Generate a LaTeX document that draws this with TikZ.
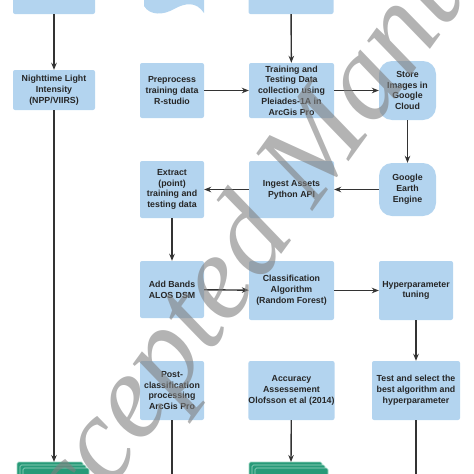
\documentclass[tikz,border=0pt]{standalone}
\usepackage{fontspec}
\setsansfont{Liberation Sans}
\newfontfamily\markfont{Liberation Serif}
\usetikzlibrary{arrows.meta}
\definecolor{boxblue}{HTML}{B3D4EF}
\definecolor{stackgreen}{HTML}{279A78}
\definecolor{stackedge}{HTML}{9ED8C4}
\definecolor{linegray}{HTML}{333333}
\begin{document}
\begin{tikzpicture}
  [x=1pt,y=-1pt,
   every node/.style={inner sep=0pt,align=center,text=black!85,
     font=\sffamily\bfseries\fontsize{8.8}{10.8}\selectfont},
   blk/.style={fill=boxblue,rounded corners=2pt},
   cloud/.style={fill=boxblue,rounded corners=13pt},
   link/.style={draw=linegray,line width=1.4pt,-{Stealth[length=7pt,width=5.5pt]}},
   plain/.style={draw=linegray,line width=1.4pt}]
  \useasboundingbox (0,0) rectangle (474,474);

  % top row, cut off by the page
  \node[blk,minimum width=82pt,minimum height=30pt] (top1) at (54,-1) {};
  \node[blk,minimum width=85pt,minimum height=30pt] (top3) at (291,-1) {};
  \fill[boxblue] (144,-10) -- (144,6) .. controls (150,16) and (164,15) .. (174,9)
    .. controls (185,3) and (196,1) .. (204,13) -- (204,-10) -- cycle;

  % first row
  \node[blk,minimum width=82pt,minimum height=40pt] (ntl) at (54,90) {Nighttime Light\\Intensity\\(NPP/VIIRS)};
  \node[blk,minimum width=64pt,minimum height=55pt] (prep) at (172,90.5) {Preprocess\\training data\\R-studio};
  \node[blk,minimum width=85pt,minimum height=55pt] (train) at (291.5,90.5) {Training and\\Testing Data\\collection using\\Pleiades-1A in\\ArcGis Pro};
  \node[cloud,minimum width=57pt,minimum height=59pt] (store) at (407.5,90.5) {Store\\Images in\\Google\\Cloud};

  % second row
  \node[cloud,minimum width=57pt,minimum height=53pt] (gee) at (407.5,189.5) {Google\\Earth\\Engine};
  \node[blk,minimum width=85pt,minimum height=57pt] (ingest) at (291.5,189.5) {Ingest Assets\\Python API};
  \node[blk,minimum width=64pt,minimum height=57pt] (extract) at (172,189.5) {Extract\\(point)\\training and\\testing data};

  % third row
  \node[blk,minimum width=64pt,minimum height=57pt] (bands) at (172,289.5) {Add Bands\\ALOS DSM};
  \node[blk,minimum width=85pt,minimum height=59pt] (rf) at (291.5,290.5) {Classification\\Algorithm\\(Random Forest)};
  \node[blk,minimum width=74pt,minimum height=59pt] (hyper) at (416,290.5) {Hyperparameter\\tuning};

  % fourth row
  \node[blk,minimum width=64pt,minimum height=59pt] (post) at (172,390.5) {Post-\\classification\\processing\\ArcGis Pro};
  \node[blk,minimum width=85pt,minimum height=59pt] (acc) at (291.5,390.5) {Accuracy\\Assessement\\Olofsson et al (2014)};
  \node[blk,minimum width=88pt,minimum height=59pt] (best) at (416,390.5) {Test and select the\\best algorithm and\\hyperparameter};

  % green stacks at the bottom
  \foreach \dx/\dy in {0/0,3/3,6/6} {
    \draw[fill=stackgreen,draw=stackedge,line width=0.6pt,rounded corners=1.5pt]
      (17+\dx,462+\dy) rectangle (83+\dx,500);
    \draw[fill=stackgreen,draw=stackedge,line width=0.6pt,rounded corners=1.5pt]
      (249+\dx,462+\dy) rectangle (322+\dx,500);
  }
  \coordinate (map1) at (54,462);
  \coordinate (map2) at (291,462);
  \coordinate (end1) at (172,480);
  \coordinate (end2) at (416,480);

  \draw[link] (top1) -- (ntl);
  \draw[link] (top3) -- (train);
  \draw[link] (prep) -- (train);
  \draw[link] (train) -- (store);
  \draw[link] (store) -- (gee);
  \draw[link] (gee) -- (ingest);
  \draw[link] (ingest) -- (extract);
  \draw[link] (extract) -- (bands);
  \draw[link] (bands) -- (rf);
  \draw[link] (rf) -- (hyper);
  \draw[link] (hyper) -- (best);
  \draw[link] (ntl) -- (map1);
  \draw[link] (acc) -- (map2);
  \draw[plain] (post) -- (end1);
  \draw[plain] (best) -- (end2);

  % watermark
  \node[rotate=54,text=gray,opacity=0.6,
    font=\markfont\itshape\fontsize{121}{121}\selectfont] (mark) at (315,159) {Accepted Manuscript};
\end{tikzpicture}
\end{document}
